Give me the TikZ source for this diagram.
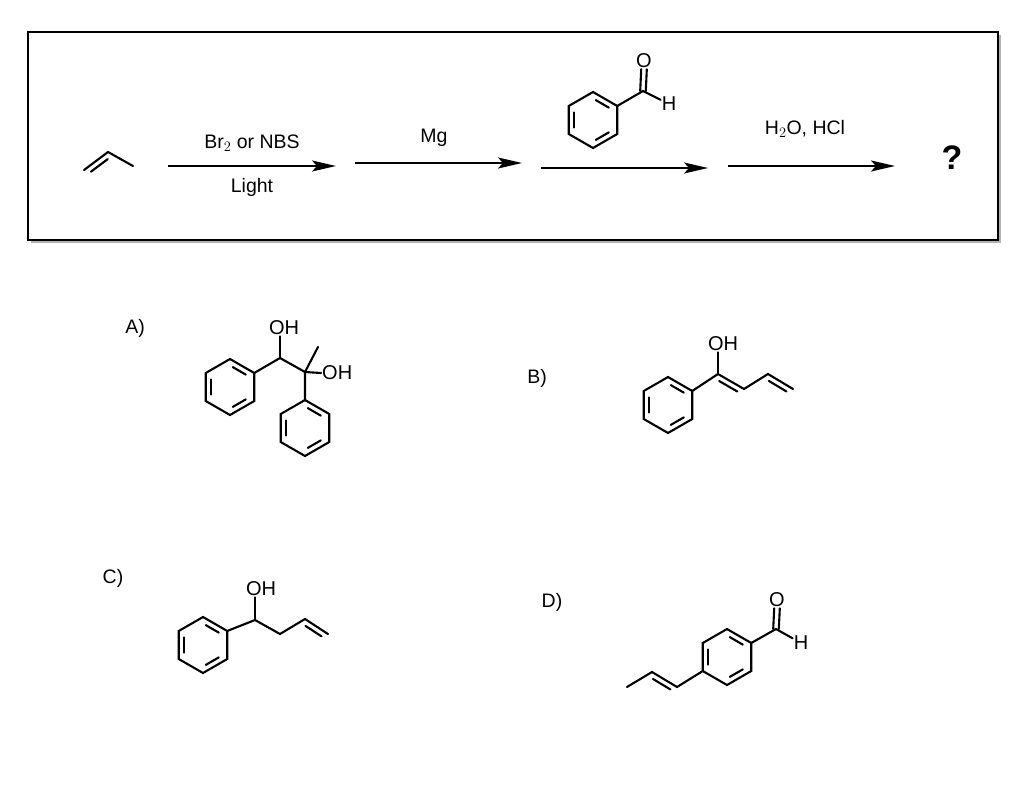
\documentclass[tikz,border=0pt]{standalone}
\usepackage{fontspec}
\setmainfont{Liberation Sans}
\usetikzlibrary{arrows.meta,calc}

\tikzset{
  bond/.style={line width=2.1pt,line cap=round},
  rxn/.style={line width=2.1pt,-{Stealth[length=24pt,width=11pt,inset=5pt]}},
  atom/.style={inner sep=1pt,font=\fontsize{20}{20}\selectfont},
  cond/.style={inner sep=1pt,font=\fontsize{19.5}{20}\selectfont},
  choice/.style={inner sep=1pt,font=\fontsize{19.5}{20}\selectfont}
}

% benzene ring with pointed top: centre x, centre y
\newcommand\benzring[2]{%
  \begin{scope}[shift={(#1,#2)}]
    \draw[bond] (30:28) -- (90:28) -- (150:28) -- (210:28) -- (270:28) -- (330:28) -- cycle;
    \foreach \a in {30,150,270}
      \draw[bond] ($(\a:21.5)!0.15!(\a+60:21.5)$) -- ($(\a+60:21.5)!0.15!(\a:21.5)$);
  \end{scope}}

% inner line of a double bond
\newcommand\dblline[3]{%
  \draw[bond] ($(#1)!0.15!(#2)!5.5pt!#3:(#2)$) -- ($(#2)!0.15!(#1)!5.5pt!-#3:(#1)$);}

\begin{document}
\begin{tikzpicture}[x=1pt,y=-1pt]
  \useasboundingbox (0,0) rectangle (1020,792);

  % reaction box
  \fill[gray!60] (31,35) rectangle (1001,243);
  \draw[line width=1.6pt,fill=white] (28,32) rectangle (998,240);

  % propene
  \coordinate (p1) at (84,170);
  \coordinate (p2) at (108,152);
  \coordinate (p3) at (133,166);
  \draw[bond] (p1) -- (p2) -- (p3);
  \dblline{p2}{p1}{90}

  % arrows
  \coordinate (a1s) at (168,166); \coordinate (a1e) at (336,166);
  \coordinate (a2s) at (355,163); \coordinate (a2e) at (522,163);
  \coordinate (a3s) at (541,168); \coordinate (a3e) at (708,168);
  \coordinate (a4s) at (728,166); \coordinate (a4e) at (895,166);
  \foreach \from/\to in {a1s/a1e,a2s/a2e,a3s/a3e,a4s/a4e}
    \draw[rxn] (\from) -- (\to);

  \node[cond] (br) at (252,143) {Br$_2$ or NBS};
  \node[cond] (light) at (252,187) {Light};
  \node[cond] (mg) at (434,138) {Mg};
  \node[cond] (acid) at (805,129) {H$_2$O, HCl};
  \node[font=\bfseries\fontsize{34}{34}\selectfont] (q) at (952,158) {?};

  % benzaldehyde
  \benzring{593}{120}
  \coordinate (bz) at (617.2,106);
  \coordinate (bc) at (643,91);
  \node[atom] (bo) at (644,61) {O};
  \node[atom] (bh) at (669,104) {H};
  \draw[bond] (bz) -- (bc) -- (bh);
  \draw[bond] ([xshift=-2.8pt]bc) -- ([xshift=-2.8pt]bo.south);
  \draw[bond] ([xshift=2.8pt]bc) -- ([xshift=2.8pt]bo.south);

  % A)
  \node[choice] (la) at (135,328) {A)};
  \benzring{230}{387}
  \benzring{305}{428}
  \coordinate (ar1) at (254.2,373);
  \coordinate (ac1) at (280,358);
  \coordinate (ac2) at (305,372);
  \coordinate (ame) at (318,347);
  \coordinate (ar2) at (305,400);
  \node[atom] (aoh1) at (284,328) {OH};
  \node[atom,anchor=west] (aoh2) at (321,373) {OH};
  \draw[bond] (ar1) -- (ac1) -- (ac2) -- (ar2);
  \draw[bond] (ac2) -- (ame);
  \draw[bond] (ac1) -- (ac1 |- aoh1.south);
  \draw[bond] (ac2) -- (aoh2.west);

  % B)
  \node[choice] (lb) at (537,378) {B)};
  \benzring{668}{405}
  \coordinate (br1) at (692.2,391);
  \coordinate (bc1) at (718,374);
  \coordinate (bc2) at (744,389);
  \coordinate (bc3) at (768,374);
  \coordinate (bc4) at (793,389);
  \node[atom] (boh) at (723,344) {OH};
  \draw[bond] (br1) -- (bc1) -- (bc2) -- (bc3) -- (bc4);
  \draw[bond] (bc1) -- (bc1 |- boh.south);
  \dblline{bc1}{bc2}{-90}
  \dblline{bc3}{bc4}{-90}

  % C)
  \node[choice] (lc) at (113,578) {C)};
  \benzring{203}{645}
  \coordinate (cr1) at (227.2,631);
  \coordinate (cc1) at (255,620);
  \coordinate (cc2) at (280,634);
  \coordinate (cc3) at (305,619);
  \coordinate (cc4) at (328,634);
  \node[atom] (coh) at (261,589) {OH};
  \draw[bond] (cr1) -- (cc1) -- (cc2) -- (cc3) -- (cc4);
  \draw[bond] (cc1) -- (cc1 |- coh.south);
  \dblline{cc3}{cc4}{-90}

  % D)
  \node[choice] (ld) at (552,602) {D)};
  \benzring{727}{657}
  \coordinate (dr1) at (751.2,643);
  \coordinate (dr2) at (702.8,671);
  \coordinate (dc) at (776,629);
  \node[atom] (do) at (777,600) {O};
  \node[atom] (dh) at (801,643) {H};
  \coordinate (dv1) at (677,687);
  \coordinate (dv2) at (652,672);
  \coordinate (dme) at (627,687);
  \draw[bond] (dr1) -- (dc) -- (dh);
  \draw[bond] ([xshift=-2.8pt]dc) -- ([xshift=-2.8pt]do.south);
  \draw[bond] ([xshift=2.8pt]dc) -- ([xshift=2.8pt]do.south);
  \draw[bond] (dr2) -- (dv1) -- (dv2) -- (dme);
  \dblline{dv1}{dv2}{90}
\end{tikzpicture}
\end{document}
